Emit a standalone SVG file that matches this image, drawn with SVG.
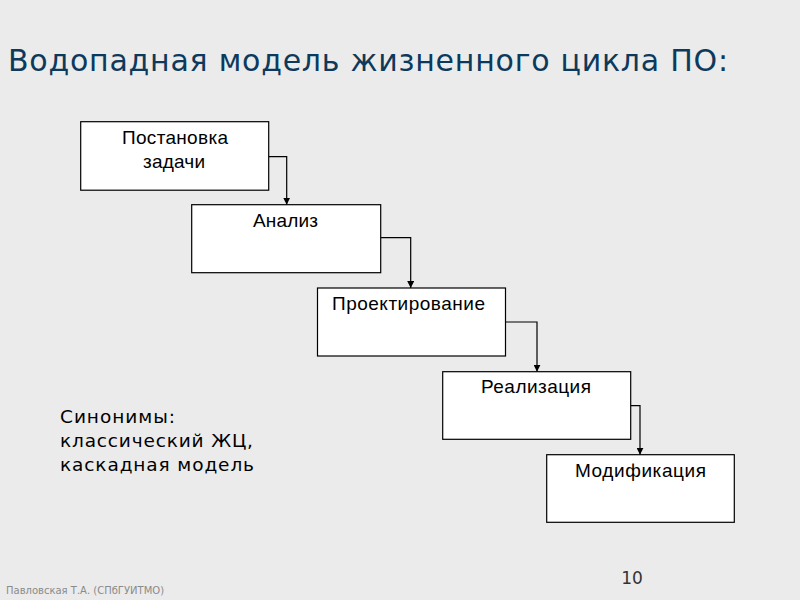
<svg xmlns="http://www.w3.org/2000/svg" width="800" height="600" viewBox="0 0 800 600">
<defs>
<style>
.box{fill:#fff;stroke:#000;stroke-width:1.2}
.lbl{font-family:"Liberation Sans",Arial,sans-serif;font-size:19px;fill:#000;text-anchor:middle}
.conn{fill:none;stroke:#000;stroke-width:1.2}
.title{font-family:"DejaVu Sans",sans-serif;font-size:30px;fill:#0d3a5c}
.syn{font-family:"DejaVu Sans",sans-serif;font-size:18.5px;fill:#000}
</style>
<marker id="arr" viewBox="0 0 10 10" refX="10" refY="5" markerWidth="7" markerHeight="7" orient="auto" markerUnits="userSpaceOnUse">
<path d="M0,0 L10,5 L0,10 z" fill="#000"/>
</marker>
</defs>
<rect width="800" height="600" fill="#ebebeb"/>
<text class="title" x="8" y="71" textLength="720" lengthAdjust="spacing">Водопадная модель жизненного цикла ПО:</text>
<g id="connectors">
<path class="conn" d="M268.7,156.7 H286.7 V204.7" marker-end="url(#arr)"/>
<path class="conn" d="M380.7,237.7 H410.7 V288" marker-end="url(#arr)"/>
<path class="conn" d="M505.5,322 H537 V371.7" marker-end="url(#arr)"/>
<path class="conn" d="M630.7,405.7 H640 V454.7" marker-end="url(#arr)"/>
</g>
<g id="n1">
<rect class="box" x="80.7" y="121.7" width="188" height="68.5"/>
<text class="lbl" x="175" y="144" textLength="106" lengthAdjust="spacing">Постановка</text>
<text class="lbl" x="174" y="168" textLength="62" lengthAdjust="spacing">задачи</text>
</g>
<g id="n2">
<rect class="box" x="191.7" y="204.7" width="189" height="68"/>
<text class="lbl" x="285.5" y="227" textLength="65" lengthAdjust="spacing">Анализ</text>
</g>
<g id="n3">
<rect class="box" x="317.5" y="288" width="188" height="68"/>
<text class="lbl" x="408.5" y="310" textLength="153" lengthAdjust="spacing">Проектирование</text>
</g>
<g id="n4">
<rect class="box" x="442.7" y="371.7" width="188" height="67.6"/>
<text class="lbl" x="536" y="393" textLength="110" lengthAdjust="spacing">Реализация</text>
</g>
<g id="n5">
<rect class="box" x="546.7" y="454.7" width="187.6" height="67.6"/>
<text class="lbl" x="640.5" y="477" textLength="131" lengthAdjust="spacing">Модификация</text>
</g>
<g id="synonyms">
<text class="syn" x="60" y="423" textLength="115" lengthAdjust="spacing">Синонимы:</text>
<text class="syn" x="60" y="447" textLength="193" lengthAdjust="spacing">классический ЖЦ,</text>
<text class="syn" x="60" y="471" textLength="194" lengthAdjust="spacing">каскадная модель</text>
</g>
<text x="6" y="594" font-family="'DejaVu Sans',sans-serif" font-size="10" fill="#8a8a8a">Павловская Т.А. (СПбГУИТМО)</text>
<text x="632" y="584" font-family="'DejaVu Sans',sans-serif" font-size="17" fill="#333" text-anchor="middle">10</text>
</svg>
